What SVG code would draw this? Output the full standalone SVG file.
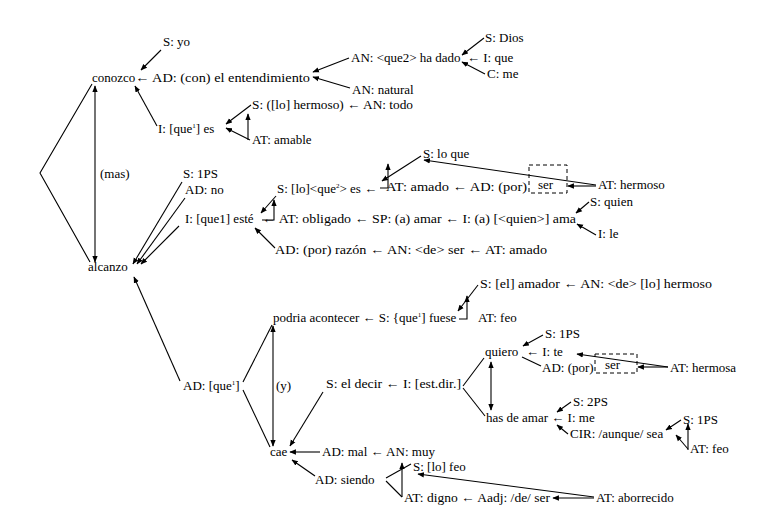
<svg xmlns="http://www.w3.org/2000/svg" width="761" height="521" viewBox="0 0 761 521">
<defs>
<marker id="a" viewBox="0 0 10 10" refX="9" refY="5" markerWidth="6" markerHeight="6" orient="auto-start-reverse"><path d="M0,1 L10,5 L0,9 z" fill="#000"/></marker>
</defs>
<style>
text{font-family:"Liberation Serif",serif;font-size:13px;fill:#000}
line,polyline{stroke:#000;stroke-width:1.1;fill:none}
.e{marker-end:url(#a)}
.b{marker-start:url(#a);marker-end:url(#a)}
.d{fill:none;stroke:#000;stroke-dasharray:4 3;stroke-width:1}
</style>
<rect width="761" height="521" fill="#fff"/>
<g id="n1"><text x="163" y="46">S: yo</text></g>
<g id="n2"><text x="92" y="82">conozco</text></g>
<g id="n3"><text x="135" y="82" textLength="175" lengthAdjust="spacingAndGlyphs">← AD: (con) el entendimiento</text></g>
<g id="n4"><text x="351" y="62">AN: &lt;que2&gt; ha dado</text></g>
<g id="n5"><text x="485" y="42">S: Dios</text></g>
<g id="n6"><text x="467" y="62">← I: que</text></g>
<g id="n7"><text x="487" y="78">C: me</text></g>
<g id="n8"><text x="352" y="94">AN: natural</text></g>
<g id="n9"><text x="252" y="109" textLength="161" lengthAdjust="spacingAndGlyphs">S: ([lo] hermoso) ← AN: todo</text></g>
<g id="n10"><text x="158" y="133">I: [que<tspan font-size="7" dy="-5">1</tspan><tspan dy="5">] es</tspan></text></g>
<g id="n11"><text x="252" y="144">AT: amable</text></g>
<g id="n12"><text x="100" y="178">(mas)</text></g>
<g id="n13"><text x="183" y="178">S: 1PS</text></g>
<g id="n14"><text x="185" y="194">AD: no</text></g>
<g id="n15"><text x="185" y="223">I: [que1] esté</text></g>
<g id="n16"><text x="277" y="193">S: [lo]&lt;que<tspan font-size="7" dy="-5">2</tspan><tspan dy="5">&gt; es ←</tspan></text></g>
<g id="n17"><text x="386" y="191" textLength="141" lengthAdjust="spacingAndGlyphs">AT: amado ← AD: (por)</text></g>
<g id="n18"><text x="423" y="158">S: lo que</text></g>
<g id="n19"><rect class="d" x="529" y="165" width="38" height="28"/><text x="538" y="189">ser</text></g>
<g id="n20"><text x="598" y="189">AT: hermoso</text></g>
<g id="n21"><text x="262" y="223" textLength="314" lengthAdjust="spacingAndGlyphs">← AT: obligado ← SP: (a) amar ←  I: (a) [&lt;quien&gt;] ama</text></g>
<g id="n22"><text x="590" y="206">S: quien</text></g>
<g id="n23"><text x="598" y="238">I: le</text></g>
<g id="n24"><text x="275" y="254" textLength="272" lengthAdjust="spacingAndGlyphs">AD: (por)  razón ← AN: &lt;de&gt; ser  ← AT: amado</text></g>
<g id="n25"><text x="88" y="271">alcanzo</text></g>
<g id="n26"><text x="480" y="288" textLength="232" lengthAdjust="spacingAndGlyphs">S: [el] amador  ← AN: &lt;de&gt; [lo] hermoso</text></g>
<g id="n27"><text x="273" y="322">podria acontecer ← S: {que<tspan font-size="7" dy="-5">1</tspan><tspan dy="5">] fuese</tspan></text></g>
<g id="n28"><text x="478" y="322">AT: feo</text></g>
<g id="n29"><text x="545" y="338">S: 1PS</text></g>
<g id="n30"><text x="485" y="356">quiero</text></g>
<g id="n31"><text x="526" y="356">← I: te</text></g>
<g id="n32"><text x="542" y="372">AD: (por)</text><rect class="d" x="595" y="354" width="42" height="19"/><text x="605" y="369">ser</text></g>
<g id="n33"><text x="670" y="372">AT: hermosa</text></g>
<g id="n34"><text x="183" y="390">AD: [que<tspan font-size="7" dy="-5">1</tspan><tspan dy="5">]</tspan></text></g>
<g id="n35"><text x="276" y="390">(y)</text></g>
<g id="n36"><text x="326" y="388" textLength="135" lengthAdjust="spacingAndGlyphs">S: el decir ← I:  [est.dir.]</text></g>
<g id="n37"><text x="573" y="406">S: 2PS</text></g>
<g id="n38"><text x="486" y="422">has de amar ← I: me</text></g>
<g id="n39"><text x="683" y="424">S: 1PS</text></g>
<g id="n40"><text x="570" y="438">CIR: /aunque/ sea</text></g>
<g id="n41"><text x="690" y="453">AT: feo</text></g>
<g id="n42"><text x="270" y="456">cae</text></g>
<g id="n43"><text x="322" y="456" textLength="113" lengthAdjust="spacingAndGlyphs">AD: mal  ← AN: muy</text></g>
<g id="n44"><text x="413" y="471">S: [lo] feo</text></g>
<g id="n45"><text x="315" y="484">AD: siendo</text></g>
<g id="n46"><text x="404" y="502" textLength="146" lengthAdjust="spacingAndGlyphs">AT: digno ←  Aadj: /de/ ser</text></g>
<g id="n47"><text x="596" y="502">AT: aborrecido</text></g>
<g id="connectors">
<line class="e" x1="161" y1="50" x2="141" y2="70"/>
<line class="e" x1="349" y1="58" x2="313" y2="72"/>
<line class="e" x1="350" y1="88" x2="313" y2="77"/>
<line class="e" x1="484" y1="38" x2="462" y2="55"/>
<line class="e" x1="485" y1="74" x2="462" y2="62"/>
<line class="e" x1="157" y1="126" x2="135" y2="86"/>
<line class="e" x1="251" y1="105" x2="226" y2="124"/>
<line class="e" x1="250" y1="140" x2="226" y2="128"/>
<polyline class="e" points="248,140 248,114"/>
<polyline points="92,84 40,173 90,262"/>
<line class="b" x1="95" y1="86" x2="95" y2="262"/>
<line class="e" x1="182" y1="182" x2="133" y2="264"/>
<line class="e" x1="185" y1="198" x2="137" y2="264"/>
<line class="e" x1="179" y1="226" x2="141" y2="264"/>
<line class="e" x1="276" y1="196" x2="261" y2="213"/>
<polyline class="e" points="262,220 274,220 274,200"/>
<line class="e" x1="275" y1="248" x2="255" y2="228"/>
<line class="e" x1="421" y1="156" x2="382" y2="181"/>
<polyline class="e" points="380,188 388,188 388,164"/>
<line class="e" x1="596" y1="185" x2="424" y2="160"/>
<line class="e" x1="596" y1="186" x2="568" y2="186"/>
<line class="e" x1="589" y1="202" x2="576" y2="213"/>
<line class="e" x1="596" y1="235" x2="577" y2="224"/>
<line class="e" x1="180" y1="381" x2="134" y2="277"/>
<line x1="243" y1="382" x2="272" y2="325"/>
<line x1="243" y1="390" x2="270" y2="447"/>
<line class="b" x1="273" y1="326" x2="273" y2="446"/>
<line class="e" x1="478" y1="285" x2="458" y2="311"/>
<polyline class="e" points="459,319 467,319 467,296"/>
<line class="e" x1="543" y1="335" x2="523" y2="346"/>
<line x1="522" y1="357" x2="541" y2="366"/>
<line class="e" x1="668" y1="367" x2="577" y2="354"/>
<line class="e" x1="668" y1="367" x2="638" y2="367"/>
<line x1="463" y1="386" x2="484" y2="358"/>
<line x1="463" y1="388" x2="485" y2="416"/>
<line class="b" x1="491" y1="362" x2="491" y2="410"/>
<line class="e" x1="571" y1="402" x2="557" y2="412"/>
<line class="e" x1="568" y1="434" x2="557" y2="425"/>
<line class="e" x1="681" y1="420" x2="666" y2="430"/>
<line class="e" x1="688" y1="449" x2="676" y2="435"/>
<polyline class="e" points="688,450 688,424"/>
<line class="e" x1="323" y1="392" x2="290" y2="446"/>
<line class="e" x1="320" y1="452" x2="290" y2="452"/>
<line class="e" x1="315" y1="476" x2="292" y2="460"/>
<line x1="386" y1="478" x2="411" y2="464"/>
<line x1="386" y1="481" x2="402" y2="497"/>
<polyline class="e" points="402,497 402,463"/>
<line class="e" x1="594" y1="497" x2="418" y2="474"/>
<line class="e" x1="594" y1="498" x2="553" y2="498"/>
</g>
</svg>
